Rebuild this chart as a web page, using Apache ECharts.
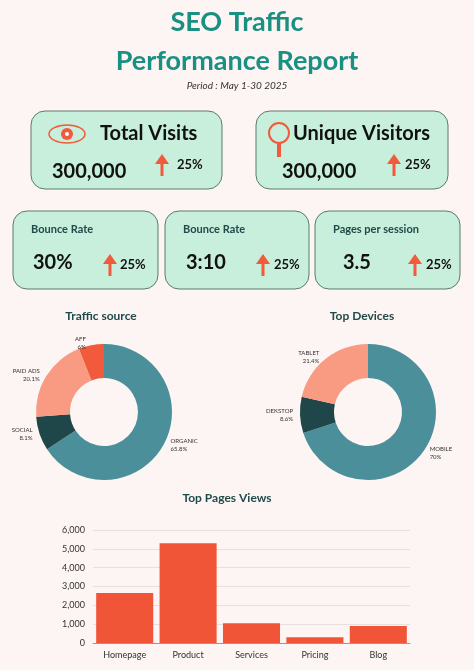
<!DOCTYPE html>
<html><head><meta charset="utf-8">
<script src="https://cdn.jsdelivr.net/npm/echarts@6/dist/echarts.min.js"></script>
<style>html,body{margin:0;padding:0;background:#fdf5f3}#c{width:474px;height:670px}</style>
</head><body><div id="c"></div>
<script>
const trafficNames = ['ORGANIC','SOCIAL','PAID ADS','AFF'];
const trafficValues = [65.8, 8.1, 20.1, 6];
const deviceNames = ['MOBILE','DEKSTOP','TABLET'];
const deviceValues = [70, 8.6, 21.4];
const pageNames = ['Homepage','Product','Services','Pricing','Blog'];
const pageViews = [2650, 5300, 1050, 300, 900];
const yTicks = [0,1000,2000,3000,4000,5000,6000];

const C_TEAL='#4a8f9a', C_DARK='#1f4649', C_SAL='#f99a83', C_OR='#f15a3a';
const F='Lato, "Open Sans", sans-serif';
const chart = echarts.init(document.getElementById('c'));

function card(x,y,w,h){return {type:'rect',shape:{x,y,width:w,height:h,r:14},style:{fill:'#c8efdc',stroke:'#5a7a6c',lineWidth:1}};}
function txt(x,y,t,size,weight,color,align){return {type:'text',x,y,style:{text:t,font:`${weight} ${size}px ${F}`,fill:color||'#111',textAlign:align||'left',textVerticalAlign:'middle'}};}
function arrow(x,y,s){ // x center, y top
  return [{type:'polygon',shape:{points:[[x,y],[x-7*s,y+10*s],[x+7*s,y+10*s]]},style:{fill:C_OR}},
          {type:'rect',shape:{x:x-1.5*s,y:y+9*s,width:3*s,height:13*s},style:{fill:C_OR}}];
}
const g=[
  txt(237,22,'SEO Traffic',27,'bold','#1a9082','center'),
  txt(237,61,'Performance Report',27,'bold','#1a9082','center'),
  {type:'text',x:237,y:86,style:{text:'Period : May 1-30 2025',font:`italic 10px ${F}`,fill:'#333',textAlign:'center',textVerticalAlign:'middle'}},
  card(31,111,191,78), card(256,111,192,78),
  card(13,211,145,78), card(165,211,144,78), card(315,211,145,78),
  {type:'ellipse',shape:{cx:67,cy:134,rx:18,ry:9},style:{fill:'none',stroke:C_OR,lineWidth:1.5}},
  {type:'circle',shape:{cx:67,cy:134,r:6},style:{fill:C_OR}},
  {type:'circle',shape:{cx:67,cy:134,r:2},style:{fill:'#fff'}},
  txt(100,134,'Total Visits',20,'bold','#111'),
  txt(52,172,'300,000',20,'bold','#111'),
  txt(177,165,'25%',13,'bold','#111'),
  {type:'circle',shape:{cx:279,cy:133,r:10},style:{fill:'none',stroke:C_OR,lineWidth:2}},
  {type:'rect',shape:{x:277,y:143,width:4,height:14},style:{fill:C_OR}},
  txt(293,134,'Unique Visitors',20,'bold','#111'),
  txt(282,172,'300,000',20,'bold','#111'),
  txt(405,165,'25%',13,'bold','#111'),
  txt(31,229,'Bounce Rate',11,'bold','#214a4a'),
  txt(183,229,'Bounce Rate',11,'bold','#214a4a'),
  txt(333,229,'Pages per session',11,'bold','#214a4a'),
  txt(33,263,'30%',20,'bold','#111'),
  txt(186,263,'3:10',20,'bold','#111'),
  txt(343,263,'3.5',20,'bold','#111'),
  txt(120,265,'25%',13,'bold','#111'),
  txt(274,265,'25%',13,'bold','#111'),
  txt(426,265,'25%',13,'bold','#111'),
  ...arrow(162,154,1), ...arrow(394,154,1),
  ...arrow(110,254,1), ...arrow(263,254,1), ...arrow(415,254,1),
  txt(101,316,'Traffic source',12,'bold','#214a4a','center'),
  txt(362,316,'Top Devices',12,'bold','#214a4a','center'),
  txt(227,498,'Top Pages Views',12,'bold','#214a4a','center')
];
const lbl={show:true,position:'outside',formatter:p=>p.name+'\n'+p.value+'%',fontSize:6,color:'#333',fontFamily:F,lineHeight:8};
chart.setOption({
  backgroundColor:'#fdf5f3',
  animation:false,
  graphic:g,
  grid:{left:93,right:64,top:530,bottom:27},
  xAxis:{type:'category',data:pageNames,axisTick:{show:false},axisLine:{lineStyle:{color:'#999'}},axisLabel:{fontSize:9,color:'#333',fontFamily:F}},
  yAxis:{type:'value',min:0,max:6000,interval:1000,axisLabel:{fontSize:9,color:'#333',fontFamily:F},splitLine:{lineStyle:{color:'#e8e0de'}}},
  series:[
    {type:'pie',center:[104,412],radius:[34,68],startAngle:90,label:lbl,labelLine:{show:false,length:2,length2:0},
      data:trafficNames.map((n,i)=>({name:n,value:trafficValues[i]})),color:[C_TEAL,C_DARK,C_SAL,C_OR]},
    {type:'pie',center:[368,412],radius:[34,68],startAngle:90,label:lbl,labelLine:{show:false,length:2,length2:0},
      data:deviceNames.map((n,i)=>({name:n,value:deviceValues[i]})),color:[C_TEAL,C_DARK,C_SAL]},
    {type:'bar',data:pageViews,barWidth:'90%',itemStyle:{color:'#f05538'}}
  ]
});
</script></body></html>
